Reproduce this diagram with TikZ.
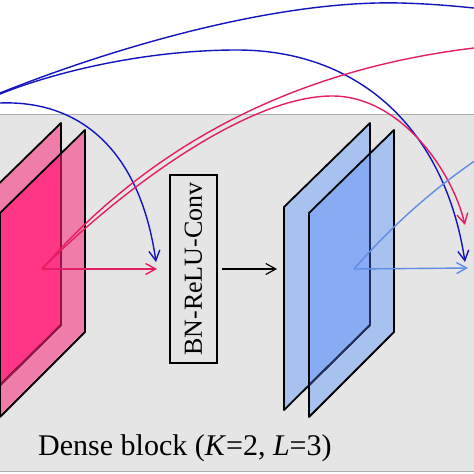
\documentclass[tikz,border=0pt]{standalone}
\usepackage{fontspec}
\setmainfont{Liberation Serif}
\usetikzlibrary{arrows.meta}
\definecolor{bggray}{RGB}{229,229,229}
\definecolor{bgline}{RGB}{175,175,175}
\definecolor{pinkL}{RGB}{240,124,170}
\definecolor{pinkD}{RGB}{255,54,134}
\definecolor{pinkE}{RGB}{150,20,70}
\definecolor{blueL}{RGB}{168,194,240}
\definecolor{blueD}{RGB}{136,172,244}
\definecolor{blueE}{RGB}{35,45,90}
\definecolor{cpink}{RGB}{228,30,98}
\definecolor{cblue}{RGB}{20,20,190}
\definecolor{clblue}{RGB}{95,140,228}
\tikzset{
  tip/.style={-{Straight Barb[length=10pt,width=11pt]}},
  conn/.style={line width=1.4pt},
  planeedge/.style={line width=1.8pt, line join=round},
  boxnode/.style={draw, line width=1.2pt, rotate=90, minimum width=188pt,
    minimum height=47pt, inner sep=0pt, font=\fontsize{26}{30}\selectfont},
  lbl/.style={anchor=base west, inner sep=0pt, font=\fontsize{30}{36}\selectfont}
}
\begin{document}
\begin{tikzpicture}[x=1pt,y=-1pt]
\useasboundingbox (0,0) rectangle (474,474);
\clip (0,0) rectangle (474,474);
\fill[white] (0,0) rectangle (474,474);
\draw[bgline, fill=bggray, line width=1pt] (-5,114) rectangle (480,471);

% two feature-map layers, each of two planes
\foreach \dx/\L/\D/\E in {0/pinkL/pinkD/pinkE, 309/blueL/blueD/blueE}{
  \begin{scope}[xshift=\dx pt]
    \fill[\L] (61,123) -- (61,325) -- (-25,410) -- (-25,207) -- cycle;
    \fill[\L] (85,130) -- (85,332) -- (0,417) -- (0,213) -- cycle;
    \begin{scope}
      \clip (61,123) -- (61,325) -- (-25,410) -- (-25,207) -- cycle;
      \fill[\D] (85,130) -- (85,332) -- (0,417) -- (0,213) -- cycle;
    \end{scope}
    \draw[planeedge] (61,123) -- (61,325) -- (-25,410) -- (-25,207) -- cycle;
    \begin{scope}
      \clip (85,130) -- (85,332) -- (0,417) -- (0,213) -- cycle;
      \draw[planeedge, \E] (61,123) -- (61,325) -- (-25,410) -- (-25,207) -- cycle;
    \end{scope}
    \draw[planeedge] (85,130) -- (85,332) -- (0,417) -- (0,213) -- cycle;
  \end{scope}
}

\node[boxnode] (bn) at (193.5,269) {BN-ReLU-Conv};
\node[lbl] (cap) at (38,455) {Dense block (\textit{K}=2, \textit{L}=3)};

\coordinate (pk) at (42,269);
\coordinate (bl) at (354,269);
\coordinate (bnin) at (157,269);
\coordinate (bnin2) at (156,262);
\coordinate (nx1) at (465,225);
\coordinate (nx2) at (465,262);
\coordinate (nx3) at (468,268);
\coordinate (prevA) at (0,93);
\coordinate (prevB) at (0,94);
\coordinate (prevC) at (0,103);
\coordinate (offA) at (520,14);
\coordinate (offB) at (474,48);
\coordinate (offC) at (786,48);
\coordinate (plin) at (277,269);

% connections from previous layer (off picture)
\draw[conn, cblue] (prevA) .. controls (120,45) and (280,0) .. (400,3)
  .. controls (440,4) and (480,8) .. (offA);
\draw[conn, cblue, tip] (prevB) .. controls (60,70) and (150,50) .. (237,50)
  .. controls (360,50) and (445,130) .. (nx2);
\draw[conn, cblue, tip] (prevC) .. controls (80,100) and (140,150) .. (bnin2);

% connections from pink layer
\draw[conn, cpink] (pk) .. controls (120,180) and (250,75) .. (offB);
\draw[conn, cpink, tip] (pk) .. controls (115,195) and (245,96) .. (332,96)
  .. controls (400,96) and (452,170) .. (nx1);
\draw[conn, cpink, tip] (pk) -- (bnin);

% connections from blue layer
\draw[conn, clblue] (bl) .. controls (432,180) and (562,75) .. (offC);
\draw[conn, clblue, tip] (bl) -- (nx3);

% box output
\draw[line width=1.2pt, tip, shorten <=4pt] (bn.south) -- (plin);
\end{tikzpicture}
\end{document}
